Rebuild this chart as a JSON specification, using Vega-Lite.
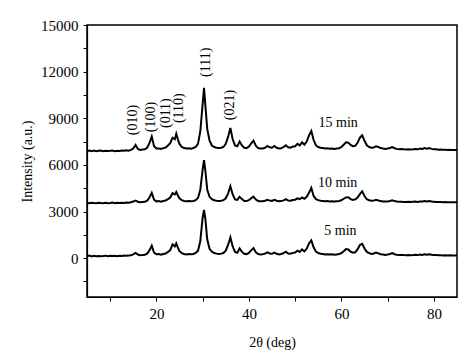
{
  "$schema": "https://vega.github.io/schema/vega-lite/v6.json",
  "autosize": "none",
  "padding": {"left": 87, "top": 25, "right": 17, "bottom": 65},
  "width": 370,
  "height": 272,
  "background": "white",
  "config": {
    "view": {"stroke": "black", "strokeWidth": 1.5},
    "font": "Liberation Serif",
    "axis": {"grid": false, "domainColor": "black", "tickColor": "black", "labelColor": "black", "titleColor": "black", "labelFont": "Liberation Serif", "titleFont": "Liberation Serif", "labelFontSize": 15, "titleFontSize": 14, "titleFontWeight": "normal", "domainWidth": 1.2, "tickWidth": 1, "labelOverlap": false}
  },
  "datasets": {
    "xrd": [
      {"x":5,"m5":130,"m10":3550,"m15":6900},
      {"x":5.5,"m5":160,"m10":3540,"m15":6930},
      {"x":6,"m5":110,"m10":3570,"m15":6880},
      {"x":6.5,"m5":150,"m10":3545,"m15":6920},
      {"x":7,"m5":120,"m10":3530,"m15":6875},
      {"x":7.5,"m5":145,"m10":3560,"m15":6905},
      {"x":8,"m5":125,"m10":3545,"m15":6925},
      {"x":8.5,"m5":140,"m10":3535,"m15":6880},
      {"x":9,"m5":160,"m10":3565,"m15":6915},
      {"x":9.5,"m5":120,"m10":3540,"m15":6890},
      {"x":10,"m5":150,"m10":3555,"m15":6905},
      {"x":10.5,"m5":135,"m10":3575,"m15":6925},
      {"x":11,"m5":155,"m10":3540,"m15":6885},
      {"x":11.5,"m5":130,"m10":3560,"m15":6915},
      {"x":12,"m5":160,"m10":3550,"m15":6895},
      {"x":12.5,"m5":140,"m10":3570,"m15":6925},
      {"x":13,"m5":165,"m10":3555,"m15":6905},
      {"x":13.5,"m5":150,"m10":3580,"m15":6935},
      {"x":14,"m5":175,"m10":3565,"m15":6915},
      {"x":14.5,"m5":190,"m10":3600,"m15":6965},
      {"x":15,"m5":240,"m10":3640,"m15":7050},
      {"x":15.5,"m5":330,"m10":3700,"m15":7280},
      {"x":16,"m5":230,"m10":3630,"m15":7020},
      {"x":16.5,"m5":190,"m10":3595,"m15":6965},
      {"x":17,"m5":200,"m10":3610,"m15":6985},
      {"x":17.5,"m5":220,"m10":3625,"m15":7000},
      {"x":18,"m5":290,"m10":3700,"m15":7100},
      {"x":18.5,"m5":500,"m10":3900,"m15":7400},
      {"x":19,"m5":800,"m10":4200,"m15":7820},
      {"x":19.5,"m5":350,"m10":3760,"m15":7200},
      {"x":20,"m5":250,"m10":3650,"m15":7050},
      {"x":20.5,"m5":260,"m10":3670,"m15":7060},
      {"x":21,"m5":220,"m10":3630,"m15":7020},
      {"x":21.5,"m5":270,"m10":3680,"m15":7080},
      {"x":22,"m5":300,"m10":3710,"m15":7120},
      {"x":22.5,"m5":400,"m10":3800,"m15":7250},
      {"x":23,"m5":520,"m10":3900,"m15":7400},
      {"x":23.5,"m5":880,"m10":4180,"m15":7750},
      {"x":24,"m5":760,"m10":4100,"m15":7650},
      {"x":24.3,"m5":950,"m10":4260,"m15":8000},
      {"x":24.7,"m5":650,"m10":4000,"m15":7600},
      {"x":25,"m5":450,"m10":3850,"m15":7350},
      {"x":25.5,"m5":320,"m10":3730,"m15":7150},
      {"x":26,"m5":270,"m10":3680,"m15":7080},
      {"x":26.5,"m5":240,"m10":3660,"m15":7050},
      {"x":27,"m5":260,"m10":3670,"m15":7065},
      {"x":27.5,"m5":245,"m10":3655,"m15":7045},
      {"x":28,"m5":270,"m10":3680,"m15":7085},
      {"x":28.5,"m5":330,"m10":3730,"m15":7150},
      {"x":29,"m5":480,"m10":3870,"m15":7350},
      {"x":29.5,"m5":1100,"m10":4400,"m15":8150},
      {"x":30,"m5":2600,"m10":5700,"m15":9900},
      {"x":30.3,"m5":3100,"m10":6300,"m15":10950},
      {"x":30.6,"m5":2500,"m10":5600,"m15":9800},
      {"x":31,"m5":1200,"m10":4400,"m15":8300},
      {"x":31.5,"m5":600,"m10":3950,"m15":7550},
      {"x":32,"m5":420,"m10":3800,"m15":7250},
      {"x":32.5,"m5":330,"m10":3720,"m15":7150},
      {"x":33,"m5":290,"m10":3690,"m15":7100},
      {"x":33.5,"m5":270,"m10":3670,"m15":7080},
      {"x":34,"m5":290,"m10":3690,"m15":7100},
      {"x":34.5,"m5":330,"m10":3730,"m15":7150},
      {"x":35,"m5":480,"m10":3850,"m15":7350},
      {"x":35.5,"m5":850,"m10":4150,"m15":7800},
      {"x":36,"m5":1330,"m10":4620,"m15":8380},
      {"x":36.5,"m5":750,"m10":4100,"m15":7650},
      {"x":37,"m5":400,"m10":3780,"m15":7250},
      {"x":37.5,"m5":350,"m10":3750,"m15":7200},
      {"x":38,"m5":620,"m10":3950,"m15":7500},
      {"x":38.5,"m5":400,"m10":3800,"m15":7250},
      {"x":39,"m5":280,"m10":3680,"m15":7100},
      {"x":39.5,"m5":260,"m10":3670,"m15":7080},
      {"x":40,"m5":330,"m10":3730,"m15":7180},
      {"x":40.5,"m5":500,"m10":3850,"m15":7380},
      {"x":41,"m5":650,"m10":3960,"m15":7560},
      {"x":41.5,"m5":380,"m10":3770,"m15":7230},
      {"x":42,"m5":260,"m10":3680,"m15":7080},
      {"x":42.5,"m5":240,"m10":3660,"m15":7050},
      {"x":43,"m5":250,"m10":3665,"m15":7060},
      {"x":43.5,"m5":290,"m10":3690,"m15":7100},
      {"x":44,"m5":370,"m10":3750,"m15":7220},
      {"x":44.5,"m5":300,"m10":3700,"m15":7130},
      {"x":45,"m5":280,"m10":3685,"m15":7100},
      {"x":45.5,"m5":360,"m10":3750,"m15":7220},
      {"x":46,"m5":280,"m10":3690,"m15":7100},
      {"x":46.5,"m5":240,"m10":3660,"m15":7050},
      {"x":47,"m5":260,"m10":3670,"m15":7070},
      {"x":47.5,"m5":330,"m10":3720,"m15":7150},
      {"x":48,"m5":420,"m10":3790,"m15":7260},
      {"x":48.5,"m5":300,"m10":3700,"m15":7130},
      {"x":49,"m5":280,"m10":3690,"m15":7100},
      {"x":49.5,"m5":340,"m10":3740,"m15":7180},
      {"x":50,"m5":360,"m10":3760,"m15":7200},
      {"x":50.5,"m5":480,"m10":3850,"m15":7350},
      {"x":51,"m5":400,"m10":3790,"m15":7250},
      {"x":51.5,"m5":560,"m10":3900,"m15":7450},
      {"x":52,"m5":430,"m10":3820,"m15":7300},
      {"x":52.5,"m5":600,"m10":3950,"m15":7500},
      {"x":53,"m5":950,"m10":4200,"m15":7900},
      {"x":53.5,"m5":1150,"m10":4520,"m15":8180},
      {"x":54,"m5":700,"m10":4000,"m15":7600},
      {"x":54.5,"m5":420,"m10":3800,"m15":7250},
      {"x":55,"m5":330,"m10":3730,"m15":7150},
      {"x":55.5,"m5":280,"m10":3690,"m15":7100},
      {"x":56,"m5":270,"m10":3680,"m15":7080},
      {"x":56.5,"m5":240,"m10":3660,"m15":7050},
      {"x":57,"m5":250,"m10":3670,"m15":7070},
      {"x":57.5,"m5":230,"m10":3650,"m15":7040},
      {"x":58,"m5":245,"m10":3665,"m15":7060},
      {"x":58.5,"m5":220,"m10":3640,"m15":7030},
      {"x":59,"m5":240,"m10":3660,"m15":7050},
      {"x":59.5,"m5":260,"m10":3675,"m15":7070},
      {"x":60,"m5":320,"m10":3720,"m15":7150},
      {"x":60.5,"m5":450,"m10":3820,"m15":7300},
      {"x":61,"m5":580,"m10":3910,"m15":7450},
      {"x":61.5,"m5":560,"m10":3920,"m15":7430},
      {"x":62,"m5":420,"m10":3800,"m15":7280},
      {"x":62.5,"m5":350,"m10":3750,"m15":7200},
      {"x":63,"m5":380,"m10":3780,"m15":7220},
      {"x":63.5,"m5":560,"m10":3900,"m15":7420},
      {"x":64,"m5":850,"m10":4120,"m15":7750},
      {"x":64.5,"m5":920,"m10":4300,"m15":7900},
      {"x":65,"m5":620,"m10":4000,"m15":7550},
      {"x":65.5,"m5":400,"m10":3790,"m15":7260},
      {"x":66,"m5":320,"m10":3720,"m15":7150},
      {"x":66.5,"m5":270,"m10":3690,"m15":7100},
      {"x":67,"m5":300,"m10":3700,"m15":7120},
      {"x":67.5,"m5":360,"m10":3750,"m15":7200},
      {"x":68,"m5":310,"m10":3710,"m15":7150},
      {"x":68.5,"m5":250,"m10":3670,"m15":7080},
      {"x":69,"m5":230,"m10":3650,"m15":7050},
      {"x":69.5,"m5":210,"m10":3640,"m15":7030},
      {"x":70,"m5":230,"m10":3650,"m15":7050},
      {"x":70.5,"m5":270,"m10":3680,"m15":7090},
      {"x":71,"m5":320,"m10":3720,"m15":7150},
      {"x":71.5,"m5":250,"m10":3670,"m15":7070},
      {"x":72,"m5":220,"m10":3640,"m15":7030},
      {"x":72.5,"m5":200,"m10":3630,"m15":7010},
      {"x":73,"m5":210,"m10":3635,"m15":7020},
      {"x":73.5,"m5":195,"m10":3620,"m15":7000},
      {"x":74,"m5":185,"m10":3615,"m15":6990},
      {"x":74.5,"m5":200,"m10":3630,"m15":7010},
      {"x":75,"m5":185,"m10":3610,"m15":6990},
      {"x":75.5,"m5":195,"m10":3625,"m15":7000},
      {"x":76,"m5":210,"m10":3640,"m15":7020},
      {"x":76.5,"m5":195,"m10":3620,"m15":7000},
      {"x":77,"m5":230,"m10":3650,"m15":7050},
      {"x":77.5,"m5":210,"m10":3640,"m15":7020},
      {"x":78,"m5":250,"m10":3670,"m15":7080},
      {"x":78.5,"m5":220,"m10":3645,"m15":7040},
      {"x":79,"m5":255,"m10":3675,"m15":7090},
      {"x":79.5,"m5":215,"m10":3640,"m15":7030},
      {"x":80,"m5":200,"m10":3630,"m15":7010},
      {"x":80.5,"m5":195,"m10":3620,"m15":7000},
      {"x":81,"m5":180,"m10":3610,"m15":6980},
      {"x":81.5,"m5":190,"m10":3615,"m15":6990},
      {"x":82,"m5":175,"m10":3600,"m15":6970},
      {"x":82.5,"m5":185,"m10":3610,"m15":6980},
      {"x":83,"m5":170,"m10":3595,"m15":6960},
      {"x":83.5,"m5":180,"m10":3600,"m15":6970},
      {"x":84,"m5":165,"m10":3590,"m15":6950},
      {"x":84.5,"m5":175,"m10":3595,"m15":6960},
      {"x":85,"m5":165,"m10":3590,"m15":6950}
    ],
    "peaks": [
      {"label":"(010)","x":15.0,"y":8880},
      {"label":"(100)","x":18.9,"y":9080},
      {"label":"(011)","x":22.1,"y":9330},
      {"label":"(110)","x":24.9,"y":9650},
      {"label":"(111)","x":30.8,"y":12600},
      {"label":"(021)","x":35.9,"y":9850}
    ],
    "series": [
      {"label":"15 min","x":59.3,"y":8690},
      {"label":"10 min","x":59.2,"y":4830},
      {"label":"5 min","x":59.8,"y":1740}
    ]
  },
  "encoding": {
    "x": {"field": "x", "type": "quantitative", "scale": {"domain": [5, 85], "nice": false}, "title": "2θ (deg)",
      "axis": {"values": [10, 20, 30, 40, 50, 60, 70, 80], "labelExpr": "datum.value % 20 === 0 ? datum.label : ''", "tickSize": 4, "labelPadding": 5, "titlePadding": 14}},
    "y": {"field": "y", "type": "quantitative", "scale": {"domain": [-2500, 15000], "nice": false, "zero": false}, "title": "Intensity (a.u.)",
      "axis": {"values": [-1500, 0, 1500, 3000, 4500, 6000, 7500, 9000, 10500, 12000, 13500, 15000], "format": "d", "labelExpr": "datum.value % 3000 === 0 ? datum.label : ''", "tickSize": 4, "labelPadding": 5, "titlePadding": 6}}
  },
  "layer": [
    {
      "data": {"name": "xrd"},
      "transform": [{"fold": ["m5", "m10", "m15"], "as": ["series", "y"]}],
      "mark": {"type": "line", "color": "black", "strokeWidth": 2, "clip": true},
      "encoding": {
        "detail": {"field": "series"}
      }
    },
    {
      "data": {"name": "peaks"},
      "mark": {"type": "text", "angle": 270, "align": "center", "baseline": "middle", "fontSize": 14, "font": "Liberation Serif", "color": "black"},
      "encoding": {
        "text": {"field": "label"}
      }
    },
    {
      "data": {"name": "series"},
      "mark": {"type": "text", "align": "center", "baseline": "middle", "fontSize": 14, "font": "Liberation Serif", "color": "black"},
      "encoding": {
        "text": {"field": "label"}
      }
    }
  ]
}
